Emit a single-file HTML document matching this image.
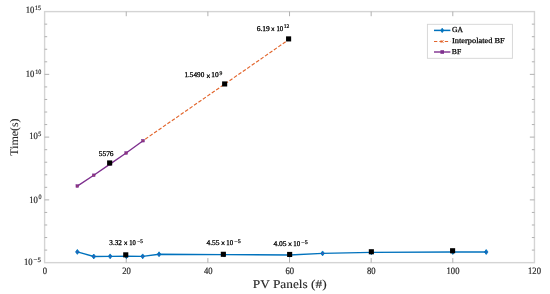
<!DOCTYPE html>
<html><head><meta charset="utf-8"><title>Time vs PV Panels</title>
<style>
html,body{margin:0;padding:0;background:#fff;width:550px;height:294px;overflow:hidden}
svg{display:block}
</style></head>
<body>
<svg width="550" height="294" viewBox="0 0 550 294">
<rect x="0" y="0" width="550" height="294" fill="#fff"/>
<rect x="44.6" y="11.6" width="489.85" height="251.05" fill="none" stroke="#d4d4d4" stroke-width="1.4"/>
<line x1="126.24" y1="262.65" x2="126.24" y2="258.05" stroke="#a8a8a8" stroke-width="0.9"/>
<line x1="126.24" y1="11.60" x2="126.24" y2="16.20" stroke="#a8a8a8" stroke-width="0.9"/>
<line x1="207.88" y1="262.65" x2="207.88" y2="258.05" stroke="#a8a8a8" stroke-width="0.9"/>
<line x1="207.88" y1="11.60" x2="207.88" y2="16.20" stroke="#a8a8a8" stroke-width="0.9"/>
<line x1="289.53" y1="262.65" x2="289.53" y2="258.05" stroke="#a8a8a8" stroke-width="0.9"/>
<line x1="289.53" y1="11.60" x2="289.53" y2="16.20" stroke="#a8a8a8" stroke-width="0.9"/>
<line x1="371.17" y1="262.65" x2="371.17" y2="258.05" stroke="#a8a8a8" stroke-width="0.9"/>
<line x1="371.17" y1="11.60" x2="371.17" y2="16.20" stroke="#a8a8a8" stroke-width="0.9"/>
<line x1="452.81" y1="262.65" x2="452.81" y2="258.05" stroke="#a8a8a8" stroke-width="0.9"/>
<line x1="452.81" y1="11.60" x2="452.81" y2="16.20" stroke="#a8a8a8" stroke-width="0.9"/>
<line x1="44.60" y1="250.10" x2="47.20" y2="250.10" stroke="#a8a8a8" stroke-width="0.9"/>
<line x1="534.45" y1="250.10" x2="531.85" y2="250.10" stroke="#a8a8a8" stroke-width="0.9"/>
<line x1="44.60" y1="237.54" x2="47.20" y2="237.54" stroke="#a8a8a8" stroke-width="0.9"/>
<line x1="534.45" y1="237.54" x2="531.85" y2="237.54" stroke="#a8a8a8" stroke-width="0.9"/>
<line x1="44.60" y1="224.99" x2="47.20" y2="224.99" stroke="#a8a8a8" stroke-width="0.9"/>
<line x1="534.45" y1="224.99" x2="531.85" y2="224.99" stroke="#a8a8a8" stroke-width="0.9"/>
<line x1="44.60" y1="212.44" x2="47.20" y2="212.44" stroke="#a8a8a8" stroke-width="0.9"/>
<line x1="534.45" y1="212.44" x2="531.85" y2="212.44" stroke="#a8a8a8" stroke-width="0.9"/>
<line x1="44.60" y1="199.89" x2="49.20" y2="199.89" stroke="#a8a8a8" stroke-width="0.9"/>
<line x1="534.45" y1="199.89" x2="529.85" y2="199.89" stroke="#a8a8a8" stroke-width="0.9"/>
<line x1="44.60" y1="187.33" x2="47.20" y2="187.33" stroke="#a8a8a8" stroke-width="0.9"/>
<line x1="534.45" y1="187.33" x2="531.85" y2="187.33" stroke="#a8a8a8" stroke-width="0.9"/>
<line x1="44.60" y1="174.78" x2="47.20" y2="174.78" stroke="#a8a8a8" stroke-width="0.9"/>
<line x1="534.45" y1="174.78" x2="531.85" y2="174.78" stroke="#a8a8a8" stroke-width="0.9"/>
<line x1="44.60" y1="162.23" x2="47.20" y2="162.23" stroke="#a8a8a8" stroke-width="0.9"/>
<line x1="534.45" y1="162.23" x2="531.85" y2="162.23" stroke="#a8a8a8" stroke-width="0.9"/>
<line x1="44.60" y1="149.68" x2="47.20" y2="149.68" stroke="#a8a8a8" stroke-width="0.9"/>
<line x1="534.45" y1="149.68" x2="531.85" y2="149.68" stroke="#a8a8a8" stroke-width="0.9"/>
<line x1="44.60" y1="137.12" x2="49.20" y2="137.12" stroke="#a8a8a8" stroke-width="0.9"/>
<line x1="534.45" y1="137.12" x2="529.85" y2="137.12" stroke="#a8a8a8" stroke-width="0.9"/>
<line x1="44.60" y1="124.57" x2="47.20" y2="124.57" stroke="#a8a8a8" stroke-width="0.9"/>
<line x1="534.45" y1="124.57" x2="531.85" y2="124.57" stroke="#a8a8a8" stroke-width="0.9"/>
<line x1="44.60" y1="112.02" x2="47.20" y2="112.02" stroke="#a8a8a8" stroke-width="0.9"/>
<line x1="534.45" y1="112.02" x2="531.85" y2="112.02" stroke="#a8a8a8" stroke-width="0.9"/>
<line x1="44.60" y1="99.47" x2="47.20" y2="99.47" stroke="#a8a8a8" stroke-width="0.9"/>
<line x1="534.45" y1="99.47" x2="531.85" y2="99.47" stroke="#a8a8a8" stroke-width="0.9"/>
<line x1="44.60" y1="86.91" x2="47.20" y2="86.91" stroke="#a8a8a8" stroke-width="0.9"/>
<line x1="534.45" y1="86.91" x2="531.85" y2="86.91" stroke="#a8a8a8" stroke-width="0.9"/>
<line x1="44.60" y1="74.36" x2="49.20" y2="74.36" stroke="#a8a8a8" stroke-width="0.9"/>
<line x1="534.45" y1="74.36" x2="529.85" y2="74.36" stroke="#a8a8a8" stroke-width="0.9"/>
<line x1="44.60" y1="61.81" x2="47.20" y2="61.81" stroke="#a8a8a8" stroke-width="0.9"/>
<line x1="534.45" y1="61.81" x2="531.85" y2="61.81" stroke="#a8a8a8" stroke-width="0.9"/>
<line x1="44.60" y1="49.26" x2="47.20" y2="49.26" stroke="#a8a8a8" stroke-width="0.9"/>
<line x1="534.45" y1="49.26" x2="531.85" y2="49.26" stroke="#a8a8a8" stroke-width="0.9"/>
<line x1="44.60" y1="36.70" x2="47.20" y2="36.70" stroke="#a8a8a8" stroke-width="0.9"/>
<line x1="534.45" y1="36.70" x2="531.85" y2="36.70" stroke="#a8a8a8" stroke-width="0.9"/>
<line x1="44.60" y1="24.15" x2="47.20" y2="24.15" stroke="#a8a8a8" stroke-width="0.9"/>
<line x1="534.45" y1="24.15" x2="531.85" y2="24.15" stroke="#a8a8a8" stroke-width="0.9"/>
<polyline points="143.05,140.70 224.65,84.10 288.60,39.75" fill="none" stroke="#E2652C" stroke-width="1.15" stroke-dasharray="3.6 1.8" stroke-dashoffset="2.77"/>
<polyline points="77.30,186.05 93.75,175.25 109.95,164.10 126.15,153.00 143.05,140.70" fill="none" stroke="#7E2F8E" stroke-width="1.4"/>
<polyline points="77.35,251.90 93.75,256.45 110.15,256.35 126.40,256.20 142.70,256.35 159.05,254.25 224.20,254.60 289.70,254.95 322.60,253.40 371.40,252.35 452.80,252.00 486.20,252.00" fill="none" stroke="#0072BD" stroke-width="1.4"/>
<path d="M77.35,249.45L79.15,251.90L77.35,254.35L75.55,251.90Z" fill="#0072BD" stroke="#0072BD" stroke-width="0.8"/>
<circle cx="77.35" cy="251.90" r="0.6" fill="#7a3fb0"/>
<path d="M93.75,254.00L95.55,256.45L93.75,258.90L91.95,256.45Z" fill="#0072BD" stroke="#0072BD" stroke-width="0.8"/>
<circle cx="93.75" cy="256.45" r="0.6" fill="#7a3fb0"/>
<path d="M110.15,253.90L111.95,256.35L110.15,258.80L108.35,256.35Z" fill="#0072BD" stroke="#0072BD" stroke-width="0.8"/>
<circle cx="110.15" cy="256.35" r="0.6" fill="#7a3fb0"/>
<path d="M126.40,253.75L128.20,256.20L126.40,258.65L124.60,256.20Z" fill="#0072BD" stroke="#0072BD" stroke-width="0.8"/>
<circle cx="126.40" cy="256.20" r="0.6" fill="#7a3fb0"/>
<path d="M142.70,253.90L144.50,256.35L142.70,258.80L140.90,256.35Z" fill="#0072BD" stroke="#0072BD" stroke-width="0.8"/>
<circle cx="142.70" cy="256.35" r="0.6" fill="#7a3fb0"/>
<path d="M159.05,251.80L160.85,254.25L159.05,256.70L157.25,254.25Z" fill="#0072BD" stroke="#0072BD" stroke-width="0.8"/>
<circle cx="159.05" cy="254.25" r="0.6" fill="#7a3fb0"/>
<path d="M224.20,252.15L226.00,254.60L224.20,257.05L222.40,254.60Z" fill="#0072BD" stroke="#0072BD" stroke-width="0.8"/>
<circle cx="224.20" cy="254.60" r="0.6" fill="#7a3fb0"/>
<path d="M289.70,252.50L291.50,254.95L289.70,257.40L287.90,254.95Z" fill="#0072BD" stroke="#0072BD" stroke-width="0.8"/>
<circle cx="289.70" cy="254.95" r="0.6" fill="#7a3fb0"/>
<path d="M322.60,250.95L324.40,253.40L322.60,255.85L320.80,253.40Z" fill="#0072BD" stroke="#0072BD" stroke-width="0.8"/>
<circle cx="322.60" cy="253.40" r="0.6" fill="#7a3fb0"/>
<path d="M371.40,249.90L373.20,252.35L371.40,254.80L369.60,252.35Z" fill="#0072BD" stroke="#0072BD" stroke-width="0.8"/>
<circle cx="371.40" cy="252.35" r="0.6" fill="#7a3fb0"/>
<path d="M452.80,249.55L454.60,252.00L452.80,254.45L451.00,252.00Z" fill="#0072BD" stroke="#0072BD" stroke-width="0.8"/>
<circle cx="452.80" cy="252.00" r="0.6" fill="#7a3fb0"/>
<path d="M486.20,249.55L488.00,252.00L486.20,254.45L484.40,252.00Z" fill="#0072BD" stroke="#0072BD" stroke-width="0.8"/>
<circle cx="486.20" cy="252.00" r="0.6" fill="#7a3fb0"/>
<rect x="75.95" y="184.70" width="2.7" height="2.7" fill="#7E2F8E" stroke="#7E2F8E" stroke-width="0.5"/>
<circle cx="77.30" cy="186.05" r="0.6" fill="#c0504d"/>
<rect x="92.40" y="173.90" width="2.7" height="2.7" fill="#7E2F8E" stroke="#7E2F8E" stroke-width="0.5"/>
<circle cx="93.75" cy="175.25" r="0.6" fill="#c0504d"/>
<rect x="108.60" y="162.75" width="2.7" height="2.7" fill="#7E2F8E" stroke="#7E2F8E" stroke-width="0.5"/>
<circle cx="109.95" cy="164.10" r="0.6" fill="#c0504d"/>
<rect x="124.80" y="151.65" width="2.7" height="2.7" fill="#7E2F8E" stroke="#7E2F8E" stroke-width="0.5"/>
<circle cx="126.15" cy="153.00" r="0.6" fill="#c0504d"/>
<rect x="141.70" y="139.35" width="2.7" height="2.7" fill="#7E2F8E" stroke="#7E2F8E" stroke-width="0.5"/>
<circle cx="143.05" cy="140.70" r="0.6" fill="#c0504d"/>
<rect x="107.10" y="160.40" width="5.1" height="5.1" fill="#000"/>
<rect x="222.10" y="81.40" width="5.1" height="5.1" fill="#000"/>
<rect x="286.05" y="36.35" width="5.1" height="5.1" fill="#000"/>
<rect x="123.20" y="252.30" width="5.1" height="5.1" fill="#000"/>
<rect x="220.80" y="251.75" width="5.1" height="5.1" fill="#000"/>
<rect x="287.10" y="251.90" width="5.1" height="5.1" fill="#000"/>
<rect x="368.80" y="249.20" width="5.1" height="5.1" fill="#000"/>
<rect x="450.05" y="248.20" width="5.1" height="5.1" fill="#000"/>
<rect x="427.4" y="24.3" width="85" height="34" fill="#fff" stroke="#d4d4d4" stroke-width="0.9"/>
<line x1="434" y1="30.4" x2="450.4" y2="30.4" stroke="#0072BD" stroke-width="1.5"/>
<path d="M442.20,28.20L443.70,30.40L442.20,32.60L440.70,30.40Z" fill="#0072BD" stroke="#0072BD" stroke-width="0.8"/>
<line x1="434" y1="41.5" x2="450.4" y2="41.5" stroke="#E2652C" stroke-width="1.1" stroke-dasharray="3.3 2.1"/>
<path d="M440.6,40 L443.6,43 M443.6,40 L440.6,43" stroke="#E2652C" stroke-width="0.9"/>
<line x1="434" y1="52" x2="450.4" y2="52" stroke="#7E2F8E" stroke-width="1.4"/>
<rect x="440.4" y="50.2" width="3.6" height="3.6" fill="#7E2F8E"/>
<text transform="translate(25.68,13.00) scale(0.9006,1)" style="font-family:'Liberation Serif',serif;font-size:9.600px;font-weight:normal;text-rendering:geometricPrecision" fill="#262626" stroke="#262626" stroke-width="0.22">10</text>
<text transform="translate(34.99,10.00) scale(0.9200,1)" style="font-family:'Liberation Serif',serif;font-size:6.600px;font-weight:normal;text-rendering:geometricPrecision" fill="#262626" stroke="#262626" stroke-width="0.18">15</text>
<text transform="translate(25.68,77.00) scale(0.9006,1)" style="font-family:'Liberation Serif',serif;font-size:9.600px;font-weight:normal;text-rendering:geometricPrecision" fill="#262626" stroke="#262626" stroke-width="0.22">10</text>
<text transform="translate(35.19,74.00) scale(0.9200,1)" style="font-family:'Liberation Serif',serif;font-size:6.600px;font-weight:normal;text-rendering:geometricPrecision" fill="#262626" stroke="#262626" stroke-width="0.18">10</text>
<text transform="translate(29.20,139.00) scale(0.9006,1)" style="font-family:'Liberation Serif',serif;font-size:9.600px;font-weight:normal;text-rendering:geometricPrecision" fill="#262626" stroke="#262626" stroke-width="0.22">10</text>
<text transform="translate(38.23,136.00) scale(0.9200,1)" style="font-family:'Liberation Serif',serif;font-size:6.600px;font-weight:normal;text-rendering:geometricPrecision" fill="#262626" stroke="#262626" stroke-width="0.18">5</text>
<text transform="translate(29.20,203.00) scale(0.9006,1)" style="font-family:'Liberation Serif',serif;font-size:9.600px;font-weight:normal;text-rendering:geometricPrecision" fill="#262626" stroke="#262626" stroke-width="0.22">10</text>
<text transform="translate(38.55,199.00) scale(0.9200,1)" style="font-family:'Liberation Serif',serif;font-size:6.600px;font-weight:normal;text-rendering:geometricPrecision" fill="#262626" stroke="#262626" stroke-width="0.18">0</text>
<text transform="translate(23.99,265.00) scale(0.9006,1)" style="font-family:'Liberation Serif',serif;font-size:9.600px;font-weight:normal;text-rendering:geometricPrecision" fill="#262626" stroke="#262626" stroke-width="0.22">10</text>
<text transform="translate(33.62,262.00) scale(1.0467,1)" style="font-family:'Liberation Serif',serif;font-size:6.600px;font-weight:normal;text-rendering:geometricPrecision" fill="#262626" stroke="#262626" stroke-width="0.18">−5</text>
<text transform="translate(42.77,274.00) scale(0.8771,1)" style="font-family:'Liberation Serif',serif;font-size:9.800px;font-weight:normal;text-rendering:geometricPrecision" fill="#262626" stroke="#262626" stroke-width="0.2">0</text>
<text transform="translate(122.23,274.00) scale(0.8771,1)" style="font-family:'Liberation Serif',serif;font-size:9.800px;font-weight:normal;text-rendering:geometricPrecision" fill="#262626" stroke="#262626" stroke-width="0.2">20</text>
<text transform="translate(204.06,274.00) scale(0.8771,1)" style="font-family:'Liberation Serif',serif;font-size:9.800px;font-weight:normal;text-rendering:geometricPrecision" fill="#262626" stroke="#262626" stroke-width="0.2">40</text>
<text transform="translate(285.50,274.00) scale(0.8771,1)" style="font-family:'Liberation Serif',serif;font-size:9.800px;font-weight:normal;text-rendering:geometricPrecision" fill="#262626" stroke="#262626" stroke-width="0.2">60</text>
<text transform="translate(367.07,274.00) scale(0.8771,1)" style="font-family:'Liberation Serif',serif;font-size:9.800px;font-weight:normal;text-rendering:geometricPrecision" fill="#262626" stroke="#262626" stroke-width="0.2">80</text>
<text transform="translate(446.57,274.00) scale(0.8771,1)" style="font-family:'Liberation Serif',serif;font-size:9.800px;font-weight:normal;text-rendering:geometricPrecision" fill="#262626" stroke="#262626" stroke-width="0.2">100</text>
<text transform="translate(528.05,274.00) scale(0.8771,1)" style="font-family:'Liberation Serif',serif;font-size:9.800px;font-weight:normal;text-rendering:geometricPrecision" fill="#262626" stroke="#262626" stroke-width="0.2">120</text>
<text transform="translate(252.82,288.00) scale(1.1103,1)" style="font-family:'Liberation Serif',serif;font-size:12.000px;font-weight:normal;text-rendering:geometricPrecision" fill="#262626" stroke="#262626" stroke-width="0.12">PV Panels (#)</text>
<text transform="translate(17.80,155.75) rotate(-90) scale(1.0284,1)" style="font-family:'Liberation Serif',serif;font-size:11.600px;font-weight:normal;text-rendering:geometricPrecision" fill="#262626" stroke="#262626" stroke-width="0.06">Time(s)</text>
<text transform="translate(98.74,156.00) scale(1.0033,1)" style="font-family:'Liberation Serif',serif;font-size:7.400px;font-weight:normal;text-rendering:geometricPrecision" fill="#000" stroke="#000" stroke-width="0.28">5576</text>
<text transform="translate(184.47,77.00) scale(0.9721,1)" style="font-family:'Liberation Serif',serif;font-size:7.400px;font-weight:normal;text-rendering:geometricPrecision" fill="#000" stroke="#000" stroke-width="0.28">1.5490</text>
<text transform="translate(206.26,79.00) scale(0.8574,1)" style="font-family:'Liberation Serif',serif;font-size:8.600px;font-weight:normal;text-rendering:geometricPrecision" fill="#000" stroke="#000" stroke-width="0.35">×</text>
<text transform="translate(211.36,77.00) scale(1.0033,1)" style="font-family:'Liberation Serif',serif;font-size:7.400px;font-weight:normal;text-rendering:geometricPrecision" fill="#000" stroke="#000" stroke-width="0.28">10</text>
<text transform="translate(219.43,75.00) scale(1.0000,1)" style="font-family:'Liberation Serif',serif;font-size:5.600px;font-weight:normal;text-rendering:geometricPrecision" fill="#000" stroke="#000" stroke-width="0.2">9</text>
<text transform="translate(256.63,31.00) scale(1.0253,1)" style="font-family:'Liberation Serif',serif;font-size:7.400px;font-weight:normal;text-rendering:geometricPrecision" fill="#000" stroke="#000" stroke-width="0.28">6.19</text>
<text transform="translate(271.03,32.00) scale(0.7673,1)" style="font-family:'Liberation Serif',serif;font-size:8.600px;font-weight:normal;text-rendering:geometricPrecision" fill="#000" stroke="#000" stroke-width="0.35">×</text>
<text transform="translate(276.41,31.00) scale(0.9179,1)" style="font-family:'Liberation Serif',serif;font-size:7.400px;font-weight:normal;text-rendering:geometricPrecision" fill="#000" stroke="#000" stroke-width="0.28">10</text>
<text transform="translate(283.68,28.00) scale(1.0000,1)" style="font-family:'Liberation Serif',serif;font-size:5.600px;font-weight:normal;text-rendering:geometricPrecision" fill="#000" stroke="#000" stroke-width="0.2">12</text>
<text transform="translate(109.37,245.00) scale(0.9686,1)" style="font-family:'Liberation Serif',serif;font-size:7.400px;font-weight:normal;text-rendering:geometricPrecision" fill="#000" stroke="#000" stroke-width="0.28">3.32</text>
<text transform="translate(123.83,246.00) scale(0.8076,1)" style="font-family:'Liberation Serif',serif;font-size:8.600px;font-weight:normal;text-rendering:geometricPrecision" fill="#000" stroke="#000" stroke-width="0.35">×</text>
<text transform="translate(129.19,245.00) scale(0.8913,1)" style="font-family:'Liberation Serif',serif;font-size:7.400px;font-weight:normal;text-rendering:geometricPrecision" fill="#000" stroke="#000" stroke-width="0.28">10</text>
<text transform="translate(137.27,243.00) scale(0.9509,1)" style="font-family:'Liberation Serif',serif;font-size:5.600px;font-weight:normal;text-rendering:geometricPrecision" fill="#000" stroke="#000" stroke-width="0.2">−5</text>
<text transform="translate(206.42,245.00) scale(1.0200,1)" style="font-family:'Liberation Serif',serif;font-size:7.400px;font-weight:normal;text-rendering:geometricPrecision" fill="#000" stroke="#000" stroke-width="0.28">4.55</text>
<text transform="translate(220.95,246.00) scale(0.8278,1)" style="font-family:'Liberation Serif',serif;font-size:8.600px;font-weight:normal;text-rendering:geometricPrecision" fill="#000" stroke="#000" stroke-width="0.35">×</text>
<text transform="translate(226.33,245.00) scale(0.9179,1)" style="font-family:'Liberation Serif',serif;font-size:7.400px;font-weight:normal;text-rendering:geometricPrecision" fill="#000" stroke="#000" stroke-width="0.28">10</text>
<text transform="translate(234.26,243.00) scale(1.0828,1)" style="font-family:'Liberation Serif',serif;font-size:5.600px;font-weight:normal;text-rendering:geometricPrecision" fill="#000" stroke="#000" stroke-width="0.2">−5</text>
<text transform="translate(273.42,246.00) scale(1.0200,1)" style="font-family:'Liberation Serif',serif;font-size:7.400px;font-weight:normal;text-rendering:geometricPrecision" fill="#000" stroke="#000" stroke-width="0.28">4.05</text>
<text transform="translate(287.95,247.00) scale(0.8278,1)" style="font-family:'Liberation Serif',serif;font-size:8.600px;font-weight:normal;text-rendering:geometricPrecision" fill="#000" stroke="#000" stroke-width="0.35">×</text>
<text transform="translate(293.20,246.00) scale(0.9335,1)" style="font-family:'Liberation Serif',serif;font-size:7.400px;font-weight:normal;text-rendering:geometricPrecision" fill="#000" stroke="#000" stroke-width="0.28">10</text>
<text transform="translate(301.31,244.00) scale(1.0881,1)" style="font-family:'Liberation Serif',serif;font-size:5.600px;font-weight:normal;text-rendering:geometricPrecision" fill="#000" stroke="#000" stroke-width="0.2">−5</text>
<text transform="translate(452.08,32.00) scale(0.9952,1)" style="font-family:'Liberation Serif',serif;font-size:7.600px;font-weight:normal;text-rendering:geometricPrecision" fill="#000" stroke="#000" stroke-width="0.25">GA</text>
<text transform="translate(452.04,43.00) scale(1.1007,1)" style="font-family:'Liberation Serif',serif;font-size:7.600px;font-weight:normal;text-rendering:geometricPrecision" fill="#000" stroke="#000" stroke-width="0.25">Interpolated BF</text>
<text transform="translate(451.77,54.00) scale(1.0133,1)" style="font-family:'Liberation Serif',serif;font-size:7.600px;font-weight:normal;text-rendering:geometricPrecision" fill="#000" stroke="#000" stroke-width="0.25">BF</text>
</svg>
</body></html>
